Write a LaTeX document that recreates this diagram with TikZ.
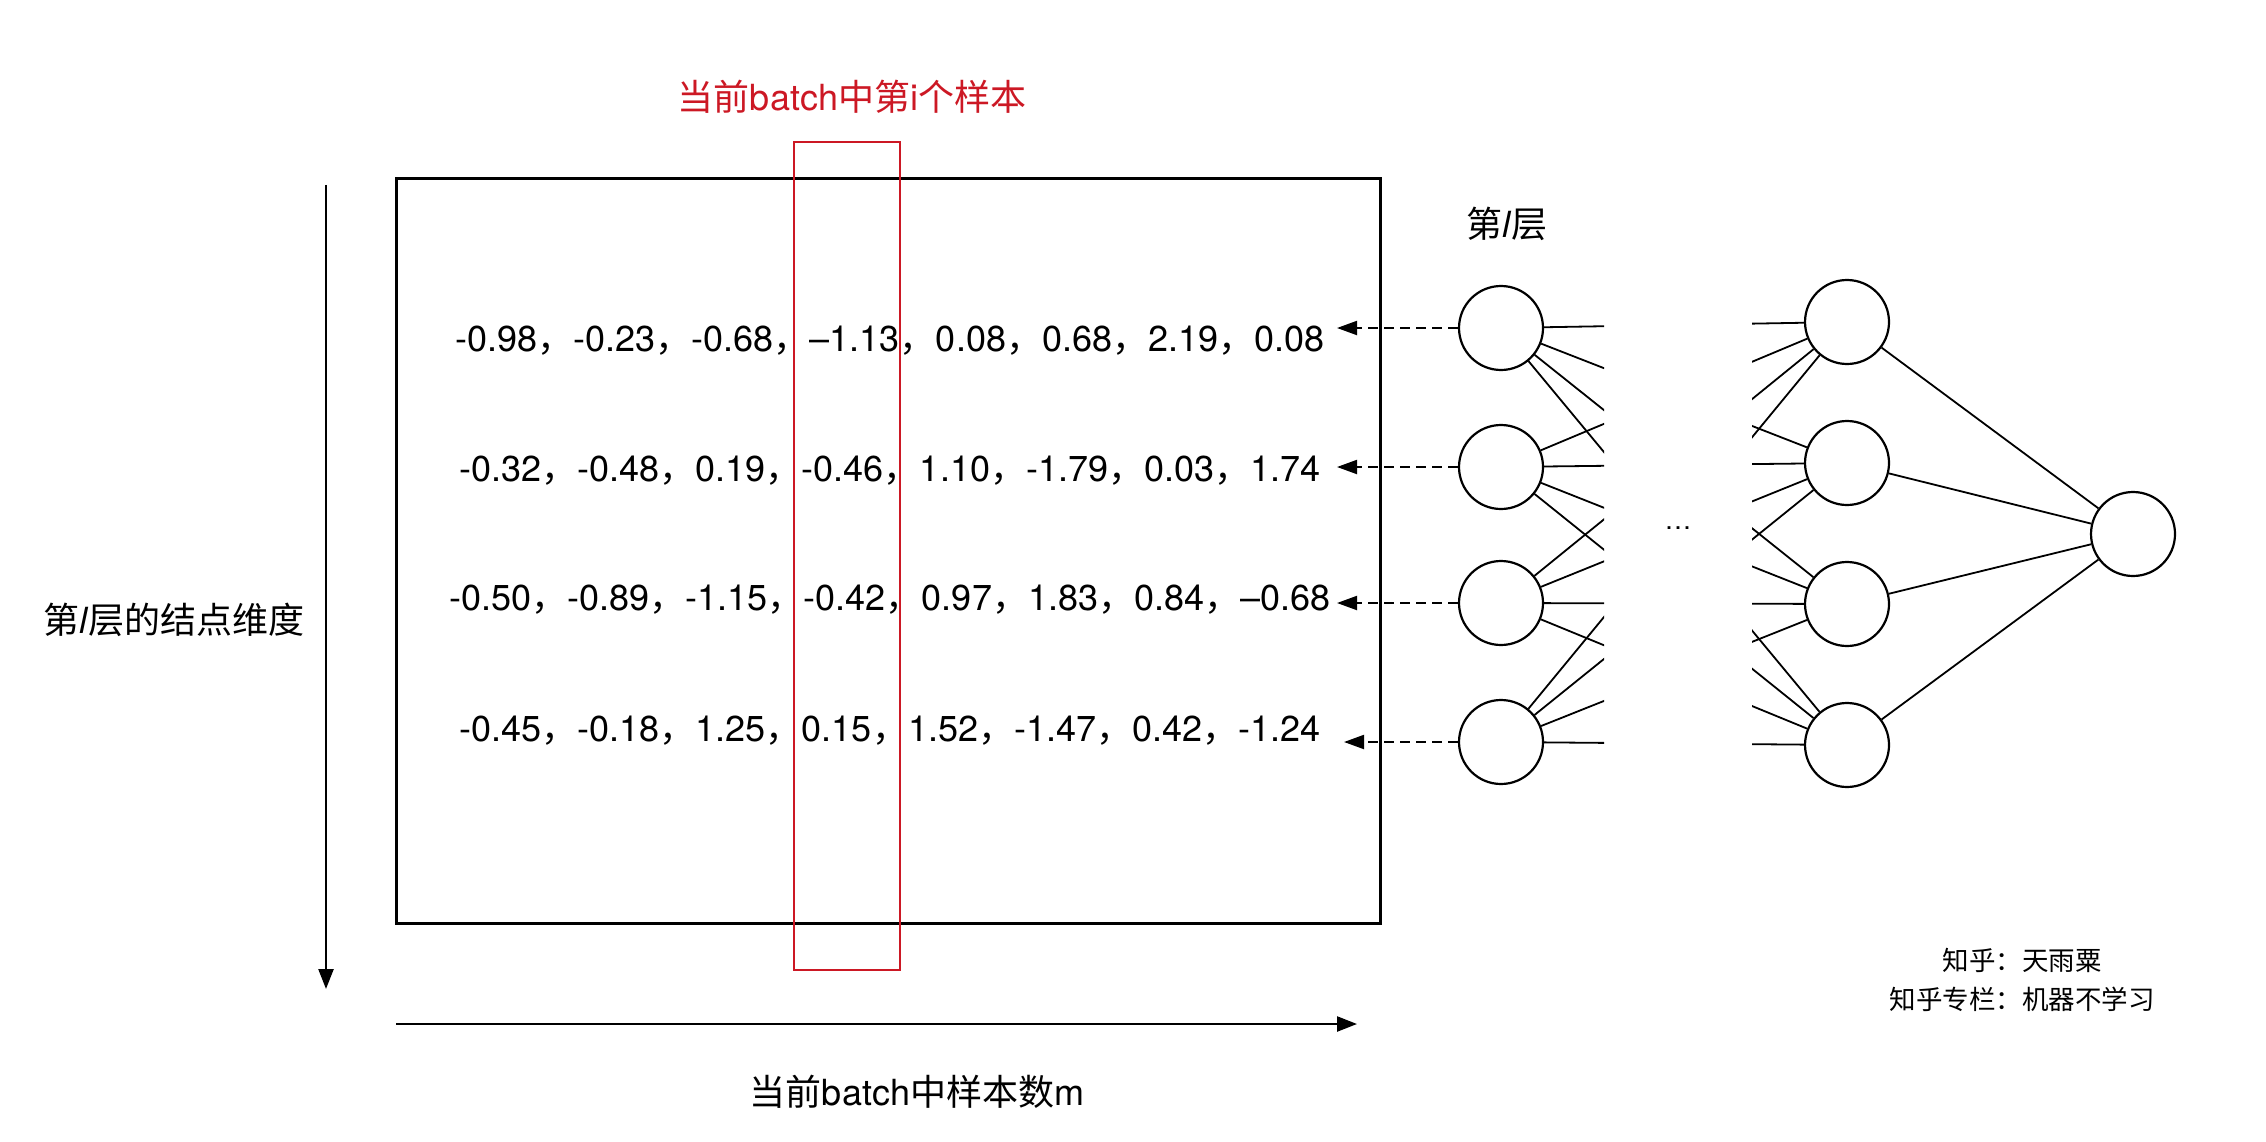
\documentclass[tikz,border=0pt]{standalone}
\usepackage{fontspec}
\setmainfont{TeX Gyre Heros}
\newfontfamily\cjk{Noto Sans CJK SC}
\usetikzlibrary{arrows.meta}
\definecolor{redc}{RGB}{204,24,36}
\newcommand\zc{{\cjk ，}}
\begin{document}
\begin{tikzpicture}[x=1pt,y=-1pt,
  neuron/.style={circle,draw,fill=white,line width=2.2pt,minimum size=84pt,inner sep=0pt},
  link/.style={line width=1.8pt},
  numrow/.style={font=\fontsize{36}{40}\selectfont,inner sep=0pt,anchor=center},
  lbl/.style={font=\fontsize{36}{40}\selectfont,inner sep=0pt},
  wm/.style={font=\fontsize{26.5}{30}\selectfont\cjk,inner sep=0pt},
  head/.style={-{Triangle[length=20pt,width=15pt]}},
  axis/.style={line width=2.4pt,head},
  dashlink/.style={line width=2pt,dash pattern=on 10pt off 6pt,-{Triangle[length=20pt,width=14pt]}},
]
\useasboundingbox (0,0) rectangle (2266,1142);

% main matrix box
\node[draw,line width=3pt,minimum width=984pt,minimum height=744pt,inner sep=0pt] (mat) at (888,551) {};

% rows of numbers
\node[numrow] (rowA) at (890,341) {-0.98\zc-0.23\zc-0.68\zc–1.13\zc0.08\zc0.68\zc2.19\zc0.08};
\node[numrow] (rowB) at (890,471) {-0.32\zc-0.48\zc0.19\zc-0.46\zc1.10\zc-1.79\zc0.03\zc1.74};
\node[numrow] (rowC) at (890,600) {-0.50\zc-0.89\zc-1.15\zc-0.42\zc0.97\zc1.83\zc0.84\zc–0.68};
\node[numrow] (rowD) at (890,731) {-0.45\zc-0.18\zc1.25\zc0.15\zc1.52\zc-1.47\zc0.42\zc-1.24};

% red column highlight
\node[draw=redc,line width=2pt,minimum width=106pt,minimum height=828pt,inner sep=0pt] (col) at (847,556) {};
\node[lbl,text=redc] (title) at (852,97) {{\cjk 当前}batch{\cjk 中第}i{\cjk 个样本}};

% axes
\coordinate (vA) at (326,185);
\coordinate (vB) at (326,989);
\draw[axis] (vA) -- (vB);
\coordinate (hA) at (396,1024);
\coordinate (hB) at (1357,1024);
\draw[axis] (hA) -- (hB);
\node[lbl] (ylab) at (174,620) {{\cjk 第}\textit{l}{\cjk 层的结点维度}};
\node[lbl] (xlab) at (917,1092) {{\cjk 当前}batch{\cjk 中样本数}m};

% network
\node[lbl] (layer) at (1507,224) {{\cjk 第}\textit{l}{\cjk 层}};
\node[neuron] (l1) at (1501,328) {};
\node[neuron] (l2) at (1501,467) {};
\node[neuron] (l3) at (1501,603) {};
\node[neuron] (l4) at (1501,742) {};
\node[neuron] (r1) at (1847,322) {};
\node[neuron] (r2) at (1847,463) {};
\node[neuron] (r3) at (1847,604) {};
\node[neuron] (r4) at (1847,745) {};
\node[neuron] (out) at (2133,534) {};
\node[font=\fontsize{27}{30}\selectfont,inner sep=0pt] (dots) at (1678,528) {…};

\begin{scope}
  \clip (1400,0) rectangle (1604,1142);
  \foreach \i in {1,...,4}{\foreach \j in {1,...,4}{\draw[link] (l\i) -- (r\j);}}
\end{scope}
\begin{scope}
  \clip (1752,0) rectangle (1900,1142);
  \foreach \i in {1,...,4}{\foreach \j in {1,...,4}{\draw[link] (l\i) -- (r\j);}}
\end{scope}
\foreach \j in {1,...,4}{\draw[link] (r\j) -- (out);}

% dashed arrows back to the matrix rows
\coordinate (t1) at (1337,328);
\coordinate (t2) at (1337,467);
\coordinate (t3) at (1337,603);
\coordinate (t4) at (1344,742);
\foreach \i in {1,...,4}{\draw[dashlink] (l\i.west) -- (t\i);}

% watermark
\node[wm] (wm1) at (2022,960) {知乎：天雨粟};
\node[wm] (wm2) at (2022,999) {知乎专栏：机器不学习};
\end{tikzpicture}
\end{document}
